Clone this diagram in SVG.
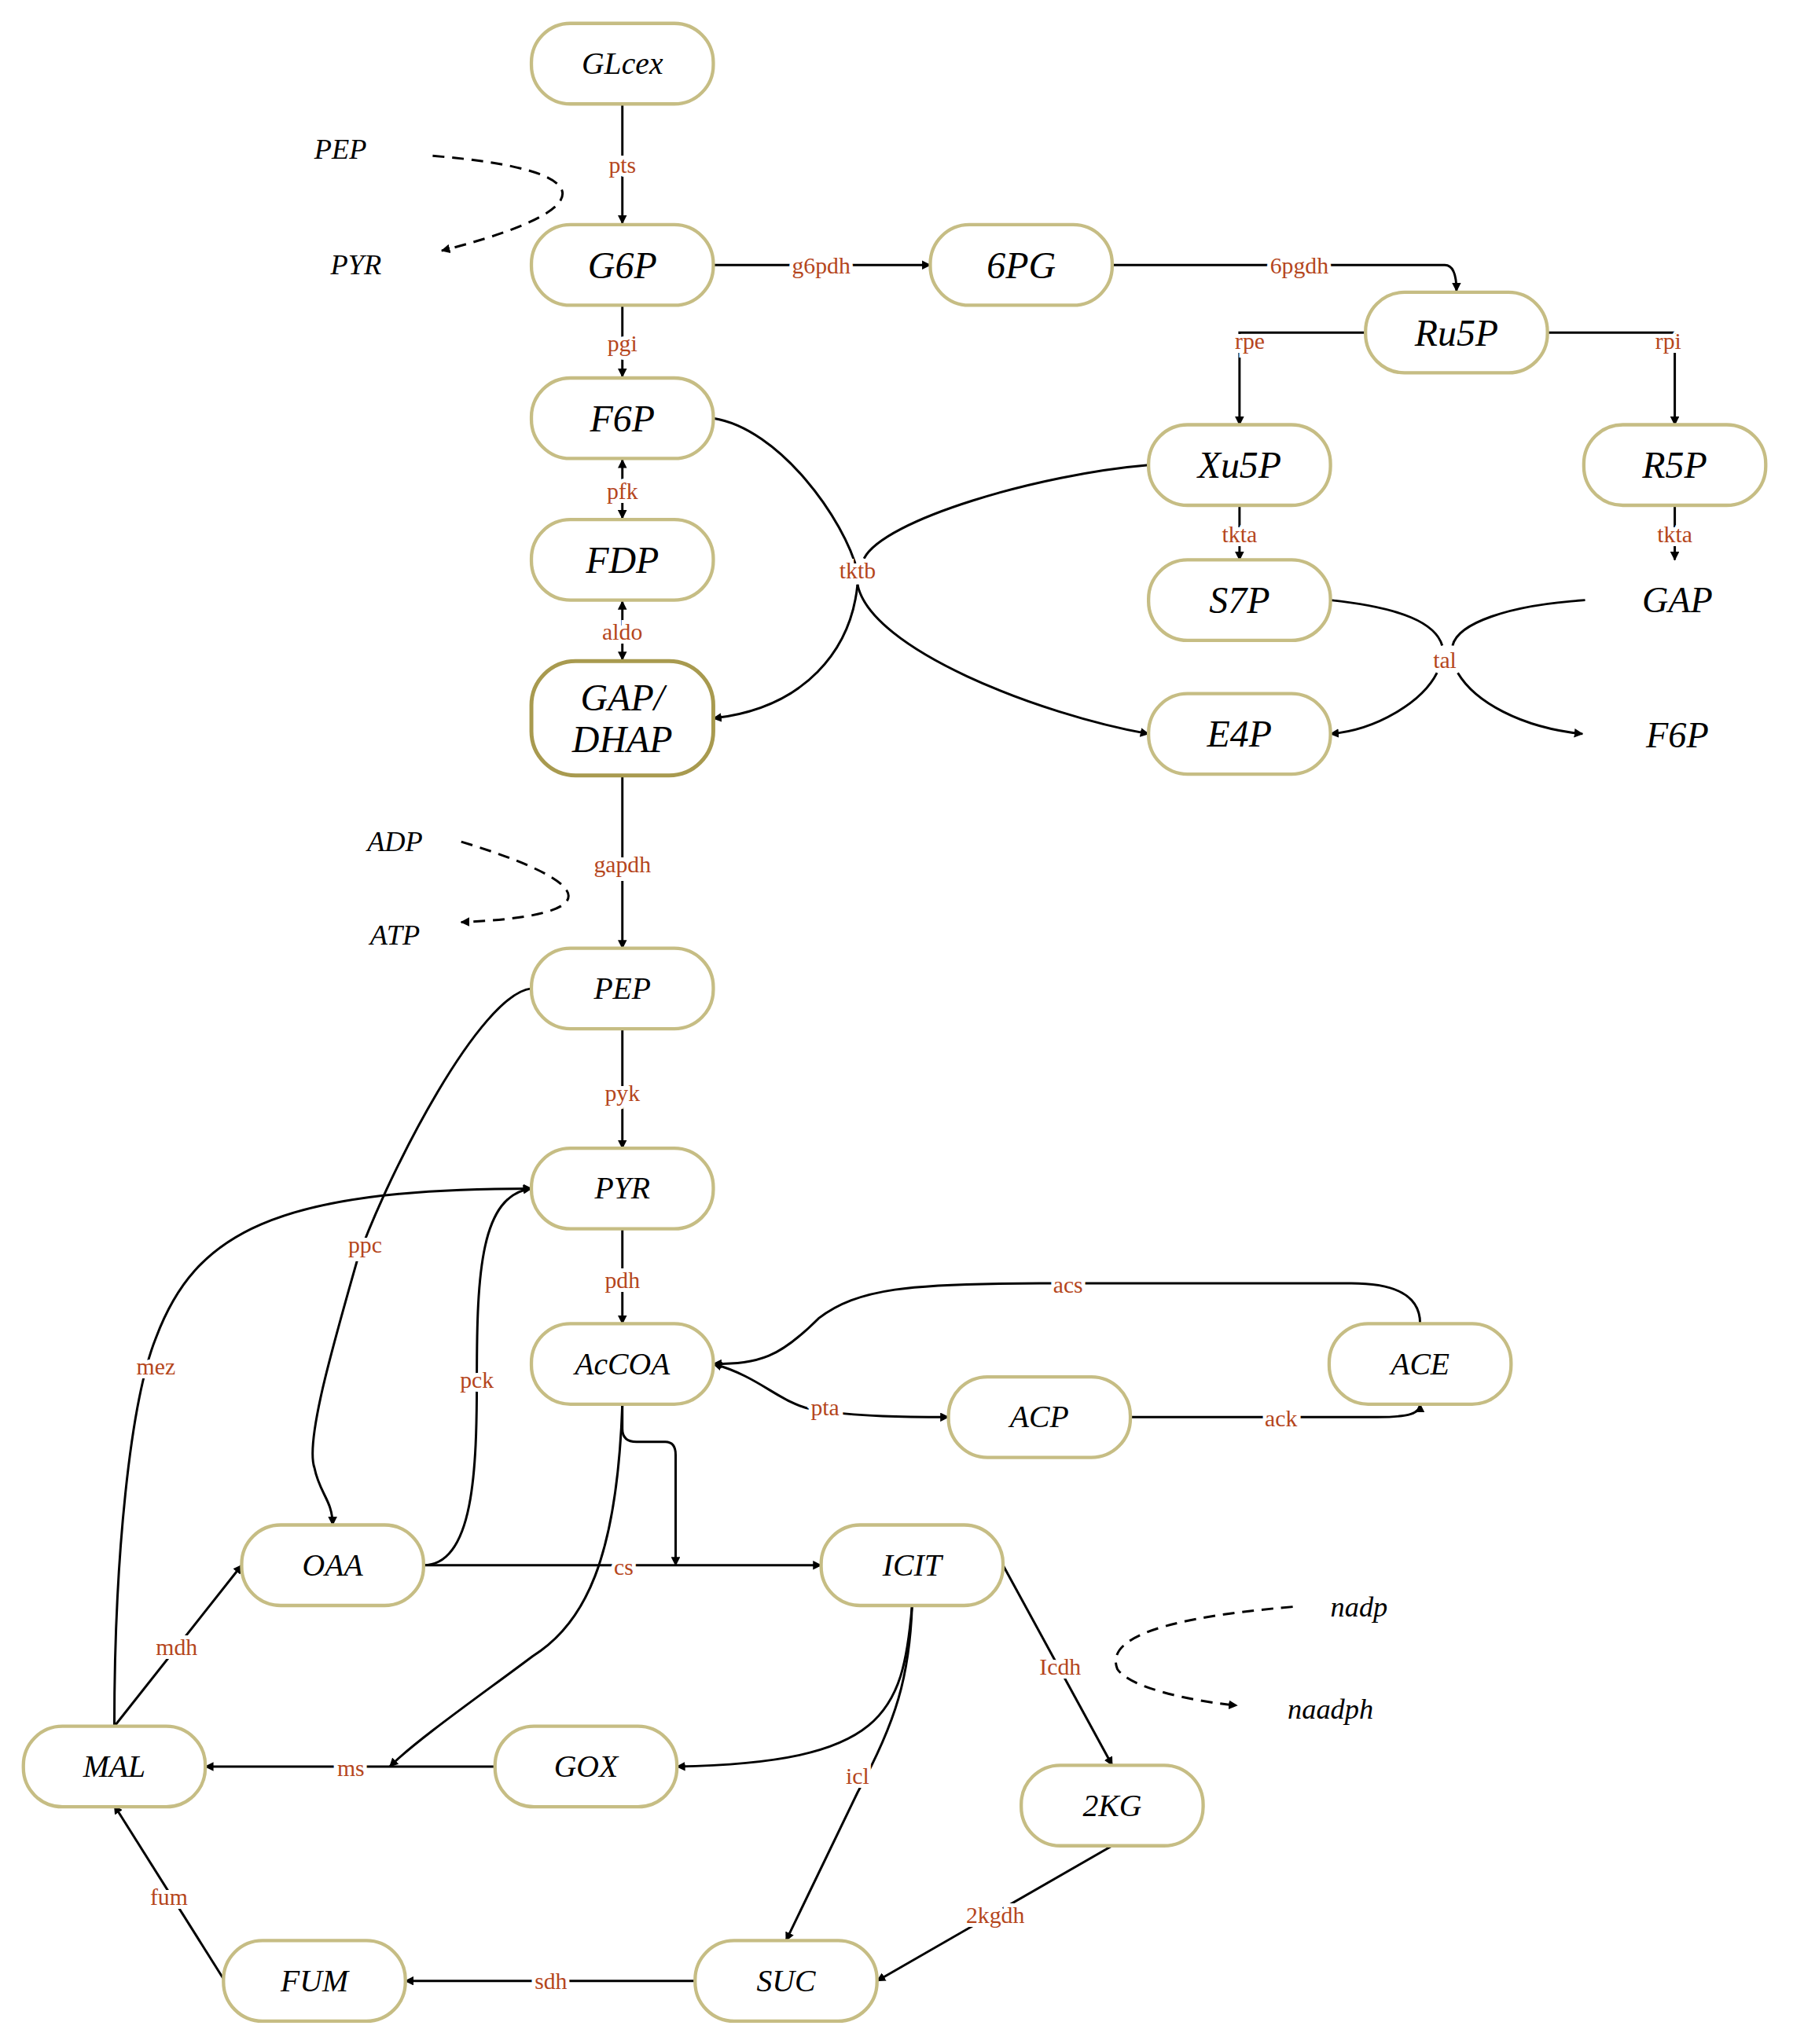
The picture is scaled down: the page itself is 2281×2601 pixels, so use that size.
<svg xmlns="http://www.w3.org/2000/svg" width="2281" height="2601" viewBox="0 0 2281 2601">
<style>
.n rect{fill:#fff;stroke:#c6bd84;stroke-width:2.6}
.n text,.t{font-family:"Liberation Serif",serif;font-style:italic;fill:#000;text-anchor:middle;dominant-baseline:central}
.e path,.e line{fill:none;stroke:#000;stroke-width:1.8}
.d{stroke-dasharray:9 6}
.l{font-family:"Liberation Serif",serif;font-size:18px;fill:#b5461c;text-anchor:middle;dominant-baseline:central;stroke:#fff;stroke-width:6;paint-order:stroke}
</style>
<defs><marker id="a" viewBox="0 0 10 10" refX="9" refY="5" markerWidth="7" markerHeight="7" orient="auto-start-reverse" markerUnits="userSpaceOnUse"><path d="M0,0L10,5L0,10z" fill="#000"/></marker></defs>
<rect width="2281" height="2601" fill="#fff"/>
<g transform="scale(1.6529)">
<g class="e" id="edges">
<line x1="479" y1="80" x2="479" y2="172" marker-end="url(#a)" style="marker-end:url(#a)"/>
<path d="M333,120 C460,130 470,160 340,193" class="d" marker-end="url(#a)"/>
<line x1="549" y1="204" x2="716" y2="204" marker-end="url(#a)"/>
<path d="M856,204 L1112,204 Q1121,204 1121,224" marker-end="url(#a)"/>
<line x1="479" y1="235" x2="479" y2="290" marker-end="url(#a)"/>
<path d="M1051,256 L954,256 L954,327" marker-end="url(#a)"/>
<path d="M1191,256 L1289,256 L1289,327" marker-end="url(#a)"/>
<line x1="479" y1="354" x2="479" y2="399" marker-start="url(#a)" marker-end="url(#a)"/>
<line x1="479" y1="463" x2="479" y2="508" marker-start="url(#a)" marker-end="url(#a)"/>
<path d="M549,322 C600,330 650,400 660,440"/>
<path d="M884,358 C800,365 680,400 665,430"/>
<path d="M660,450 C655,500 620,545 549,553" marker-end="url(#a)"/>
<path d="M660,450 C670,500 800,550 884,565" marker-end="url(#a)"/>
<line x1="954" y1="389" x2="954" y2="431" marker-end="url(#a)"/>
<line x1="1289" y1="389" x2="1289" y2="431" marker-end="url(#a)"/>
<path d="M1024,462 C1080,468 1105,480 1110,497"/>
<path d="M1220,462 C1160,466 1122,480 1118,497"/>
<path d="M1106,518 C1095,540 1060,562 1024,565" marker-end="url(#a)"/>
<path d="M1122,518 C1135,540 1170,560 1218,565" marker-end="url(#a)"/>
<line x1="479" y1="597" x2="479" y2="730" marker-end="url(#a)"/>
<path d="M355,648 C460,680 470,705 355,710" class="d" marker-end="url(#a)"/>
<line x1="479" y1="792" x2="479" y2="884" marker-end="url(#a)"/>
<line x1="479" y1="946" x2="479" y2="1019" marker-end="url(#a)"/>
<path d="M409,761 C370,765 300,900 275,970 C255,1040 235,1110 242,1130 C246,1150 256,1155 256,1174" marker-end="url(#a)"/>
<path d="M326,1205 C365,1205 367,1130 367,1060 C367,980 370,920 409,915" marker-end="url(#a)"/>
<path d="M88,1329 C88,1200 100,1080 120,1030 C150,950 210,915 409,915" marker-end="url(#a)"/>
<line x1="88" y1="1329" x2="186" y2="1205" marker-end="url(#a)"/>
<line x1="173" y1="1525" x2="88" y2="1390" marker-end="url(#a)"/>
<line x1="535" y1="1525" x2="312" y2="1525" marker-end="url(#a)"/>
<line x1="856" y1="1421" x2="675" y2="1525" marker-end="url(#a)"/>
<line x1="772" y1="1205" x2="856" y2="1359" marker-end="url(#a)"/>
<path d="M995,1237 C900,1245 850,1260 860,1285 C870,1300 920,1310 952,1313" class="d" marker-end="url(#a)"/>
<path d="M702,1236 C700,1290 690,1325 660,1380 L605,1494" marker-end="url(#a)"/>
<path d="M702,1236 C695,1320 680,1357 521,1360" marker-end="url(#a)"/>
<line x1="326" y1="1205" x2="632" y2="1205" marker-end="url(#a)"/>
<path d="M479,1081 L479,1100 Q479,1110 490,1110 L512,1110 Q520,1110 520,1120 L520,1205" marker-end="url(#a)"/>
<line x1="381" y1="1360" x2="158" y2="1360" marker-end="url(#a)"/>
<path d="M479,1081 C475,1200 450,1250 410,1275 C370,1305 320,1340 300,1360" marker-end="url(#a)"/>
<path d="M1093,1019 C1093,995 1070,988 1040,988 L800,988 C700,988 660,992 630,1015 C600,1045 585,1050 549,1050" marker-end="url(#a)"/>
<path d="M549,1050 C585,1060 600,1080 625,1085 C660,1091 700,1091 730,1091" marker-start="url(#a)" marker-end="url(#a)"/>
<path d="M870,1091 L1060,1091 C1085,1091 1093,1088 1093,1081" marker-end="url(#a)"/>
<text class="l" x="479" y="127">pts</text>
<text class="l" x="632" y="204">g6pdh</text>
<text class="l" x="1000" y="204">6pgdh</text>
<text class="l" x="479" y="264">pgi</text>
<text class="l" x="962" y="262">rpe</text>
<text class="l" x="1284" y="262">rpi</text>
<text class="l" x="479" y="378">pfk</text>
<text class="l" x="479" y="486">aldo</text>
<text class="l" x="660" y="439">tktb</text>
<text class="l" x="954" y="411">tkta</text>
<text class="l" x="1289" y="411">tkta</text>
<text class="l" x="1112" y="508">tal</text>
<text class="l" x="479" y="665">gapdh</text>
<text class="l" x="479" y="841">pyk</text>
<text class="l" x="479" y="985">pdh</text>
<text class="l" x="281" y="958">ppc</text>
<text class="l" x="367" y="1062">pck</text>
<text class="l" x="120" y="1052">mez</text>
<text class="l" x="136" y="1268">mdh</text>
<text class="l" x="130" y="1460">fum</text>
<text class="l" x="424" y="1525">sdh</text>
<text class="l" x="766" y="1474">2kgdh</text>
<text class="l" x="816" y="1283">Icdh</text>
<text class="l" x="660" y="1367">icl</text>
<text class="l" x="480" y="1206">cs</text>
<text class="l" x="270" y="1361">ms</text>
<text class="l" x="822" y="989">acs</text>
<text class="l" x="635" y="1083">pta</text>
<text class="l" x="986" y="1092">ack</text>
</g>
<g font-size="22">
<text class="t" x="262" y="115">PEP</text>
<text class="t" x="274" y="204">PYR</text>
<text class="t" x="304" y="648">ADP</text>
<text class="t" x="304" y="720">ATP</text>
<text class="t" x="1046" y="1237">nadp</text>
<text class="t" x="1024" y="1316">naadph</text>
<text class="t" x="1291" y="462" font-size="28">GAP</text>
<text class="t" x="1291" y="566" font-size="28">F6P</text>
</g>
<g id="GLcex" class="n"><rect x="409" y="18" width="140" height="62" rx="30"/><text x="479" y="49" font-size="24">GLcex</text></g>
<g id="G6P" class="n"><rect x="409" y="173" width="140" height="62" rx="30"/><text x="479" y="204" font-size="29">G6P</text></g>
<g id="6PG" class="n"><rect x="716" y="173" width="140" height="62" rx="30"/><text x="786" y="204" font-size="29">6PG</text></g>
<g id="Ru5P" class="n"><rect x="1051" y="225" width="140" height="62" rx="30"/><text x="1121" y="256" font-size="29">Ru5P</text></g>
<g id="F6P" class="n"><rect x="409" y="291" width="140" height="62" rx="30"/><text x="479" y="322" font-size="29">F6P</text></g>
<g id="FDP" class="n"><rect x="409" y="400" width="140" height="62" rx="30"/><text x="479" y="431" font-size="29">FDP</text></g>
<g id="GAPDHAP" class="n"><rect x="409" y="509" width="140" height="88" rx="34" style="stroke:#a89a4f;stroke-width:3"/><text x="479" y="537" font-size="29">GAP/</text><text x="479" y="569" font-size="29">DHAP</text></g>
<g id="Xu5P" class="n"><rect x="884" y="327" width="140" height="62" rx="30"/><text x="954" y="358" font-size="29">Xu5P</text></g>
<g id="R5P" class="n"><rect x="1219" y="327" width="140" height="62" rx="30"/><text x="1289" y="358" font-size="29">R5P</text></g>
<g id="S7P" class="n"><rect x="884" y="431" width="140" height="62" rx="30"/><text x="954" y="462" font-size="29">S7P</text></g>
<g id="E4P" class="n"><rect x="884" y="534" width="140" height="62" rx="30"/><text x="954" y="565" font-size="29">E4P</text></g>
<g id="PEP" class="n"><rect x="409" y="730" width="140" height="62" rx="30"/><text x="479" y="761" font-size="24">PEP</text></g>
<g id="PYR" class="n"><rect x="409" y="884" width="140" height="62" rx="30"/><text x="479" y="915" font-size="24">PYR</text></g>
<g id="AcCOA" class="n"><rect x="409" y="1019" width="140" height="62" rx="30"/><text x="479" y="1050" font-size="24">AcCOA</text></g>
<g id="ACE" class="n"><rect x="1023" y="1019" width="140" height="62" rx="30"/><text x="1093" y="1050" font-size="24">ACE</text></g>
<g id="ACP" class="n"><rect x="730" y="1060" width="140" height="62" rx="30"/><text x="800" y="1091" font-size="24">ACP</text></g>
<g id="OAA" class="n"><rect x="186" y="1174" width="140" height="62" rx="30"/><text x="256" y="1205" font-size="24">OAA</text></g>
<g id="ICIT" class="n"><rect x="632" y="1174" width="140" height="62" rx="30"/><text x="702" y="1205" font-size="24">ICIT</text></g>
<g id="MAL" class="n"><rect x="18" y="1329" width="140" height="62" rx="30"/><text x="88" y="1360" font-size="24">MAL</text></g>
<g id="GOX" class="n"><rect x="381" y="1329" width="140" height="62" rx="30"/><text x="451" y="1360" font-size="24">GOX</text></g>
<g id="2KG" class="n"><rect x="786" y="1359" width="140" height="62" rx="30"/><text x="856" y="1390" font-size="24">2KG</text></g>
<g id="FUM" class="n"><rect x="172" y="1494" width="140" height="62" rx="30"/><text x="242" y="1525" font-size="24">FUM</text></g>
<g id="SUC" class="n"><rect x="535" y="1494" width="140" height="62" rx="30"/><text x="605" y="1525" font-size="24">SUC</text></g>
</g>
</svg>
